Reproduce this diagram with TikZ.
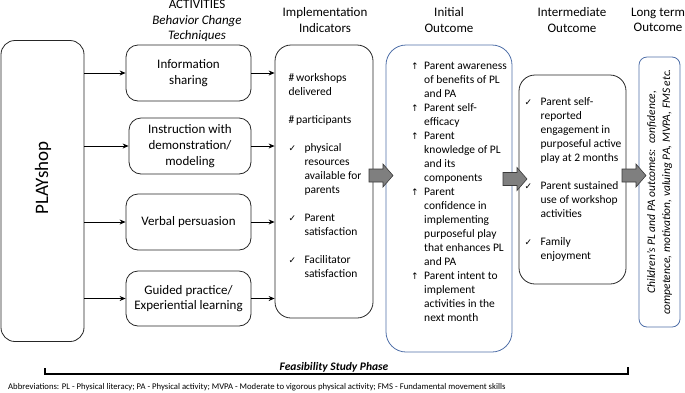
\documentclass[tikz,border=0pt]{standalone}
\usepackage{fontspec}
\setmainfont{Carlito}
\newfontfamily\symfont{DejaVu Sans}
\usetikzlibrary{positioning, arrows.meta, calc}
\definecolor{edge}{HTML}{262626}
\definecolor{outblue}{HTML}{4F6FA8}
\definecolor{blockgray}{HTML}{7F7F7F}
\definecolor{blockedge}{HTML}{3A3A3A}
\newcommand{\tickitem}{\makebox[16pt][l]{\symfont\fontsize{9}{10}\selectfont ✓}}
\newcommand{\upitem}{\makebox[13pt][l]{\symfont\fontsize{9}{10}\selectfont ↑}}
\newcommand{\tickgap}{\hspace*{16pt}}
\newcommand{\upgap}{\hspace*{13pt}}

\begin{document}
\begin{tikzpicture}[x=1pt,y=-1pt,font=\fontsize{13}{15.6}\selectfont,
  act/.style={draw=edge,line width=0.8pt,rounded corners=12pt,minimum width=125pt,
              minimum height=56pt,align=center,inner sep=0pt},
  col/.style={draw=edge,line width=0.8pt,rounded corners=16pt,inner sep=0pt},
  blue col/.style={col,draw=outblue},
  list/.style={align=left,inner sep=0pt,font=\fontsize{11.5}{14}\selectfont},
  head/.style={align=center,inner sep=0pt},
  link/.style={-{Stealth[length=6pt,width=5pt]},line width=0.8pt},
  blockarrow/.pic={\draw[fill=blockgray,draw=blockedge,line width=0.6pt]
    (0,-6.5) -- (14,-6.5) -- (14,-11.5) -- (24,0) -- (14,11.5) -- (14,6.5) -- (0,6.5) -- cycle;}]
  \useasboundingbox (0,0) rectangle (685,392);
  % column headings
  \node[head] (acthead) at (197,21) {ACTIVITIES\\\textit{Behavior Change}\\\textit{Techniques}};
  \node[head] (implhead) at (325,20) {Implementation\\Indicators};
  \node[head] (inithead) at (449,20) {Initial\\Outcome};
  \node[head] (midhead) at (572,20) {Intermediate\\Outcome};
  \node[head] (longhead) at (658,20) {Long term\\Outcome};
  % programme
  \node[col,rounded corners=14pt,minimum width=83pt,minimum height=301pt] (play) at (42.5,191) {};
  \node[rotate=90,font=\fontsize{19}{22}\selectfont] (playtxt) at (43,178) {PLAYshop};
  % behaviour change techniques
  \node[act] (info) at (188.5,73) {Information\\sharing};
  \node[act,minimum width=122pt] (instr) at (190,146) {Instruction with\\demonstration/\\modeling};
  \node[act] (verbal) at (188.5,222) {Verbal persuasion};
  \node[act,minimum height=55pt] (guided) at (188.5,298.5) {Guided practice/\\Experiential learning};
  % implementation indicators
  \node[col,minimum width=98pt,minimum height=273pt] (impl) at (324,181.5) {};
  \node[list] (impltxt) at (325,176) {\#\,workshops\\delivered\\[14pt]
    \#\,participants\\[14pt]
    \tickitem physical\\\tickgap resources\\\tickgap available for\\\tickgap parents\\[14pt]
    \tickitem Parent\\\tickgap satisfaction\\[14pt]
    \tickitem Facilitator\\\tickgap satisfaction};
  % initial outcome
  \node[blue col,rounded corners=20pt,minimum width=126pt,minimum height=307pt] (init) at (449,198.5) {};
  \node[list] (inittxt) at (459,191.5) {\upitem Parent awareness\\\upgap of benefits of PL\\\upgap and PA\\
    \upitem Parent self-\\\upgap efficacy\\
    \upitem Parent\\\upgap knowledge of PL\\\upgap and its\\\upgap components\\
    \upitem Parent\\\upgap confidence in\\\upgap implementing\\\upgap purposeful play\\\upgap that enhances PL\\\upgap and PA\\
    \upitem Parent intent to\\\upgap implement\\\upgap activities in the\\\upgap next month};
  % intermediate outcome
  \node[col,minimum width=107pt,minimum height=209pt] (mid) at (572.5,179.5) {};
  \node[list] (midtxt) at (573,179) {\tickitem Parent self-\\\tickgap reported\\\tickgap engagement in\\\tickgap purposeful active\\\tickgap play at 2 months\\[14pt]
    \tickitem Parent sustained\\\tickgap use of workshop\\\tickgap activities\\[14pt]
    \tickitem Family\\\tickgap enjoyment};
  % long term outcome
  \node[blue col,rounded corners=8pt,rotate=90,minimum width=270pt,minimum height=41pt,
        align=center,font=\fontsize{11.5}{15}\selectfont\itshape] (long) at (659.5,192)
        {Children's PL and PA outcomes:\ \ confidence,\\competence, motivation, valuing PA, MVPA, FMS etc.};
  % connectors
  \foreach \b in {info,instr,verbal,guided} {
    \draw[link] (play.east|-\b.west) -- (\b.west);
    \draw[link] (\b.east) -- (impl.west|-\b.east);
  }
  \pic at (369,175.5) {blockarrow};
  \pic at (503,179) {blockarrow};
  \pic at (622,175.5) {blockarrow};
  % study phase
  \node[font=\fontsize{11.5}{14}\selectfont\bfseries\itshape,anchor=base,inner sep=0pt] (phase) at (334,370) {Feasibility Study Phase};
  \draw[line width=1.2pt] (45,368) |- (628,374) -- (628,367);
  \node[anchor=west,inner sep=0pt,font=\fontsize{8.7}{10}\selectfont] (abbr) at (8,387)
    {Abbreviations: PL - Physical literacy; PA - Physical activity; MVPA - Moderate to vigorous physical activity; FMS - Fundamental movement skills};
\end{tikzpicture}
\end{document}
